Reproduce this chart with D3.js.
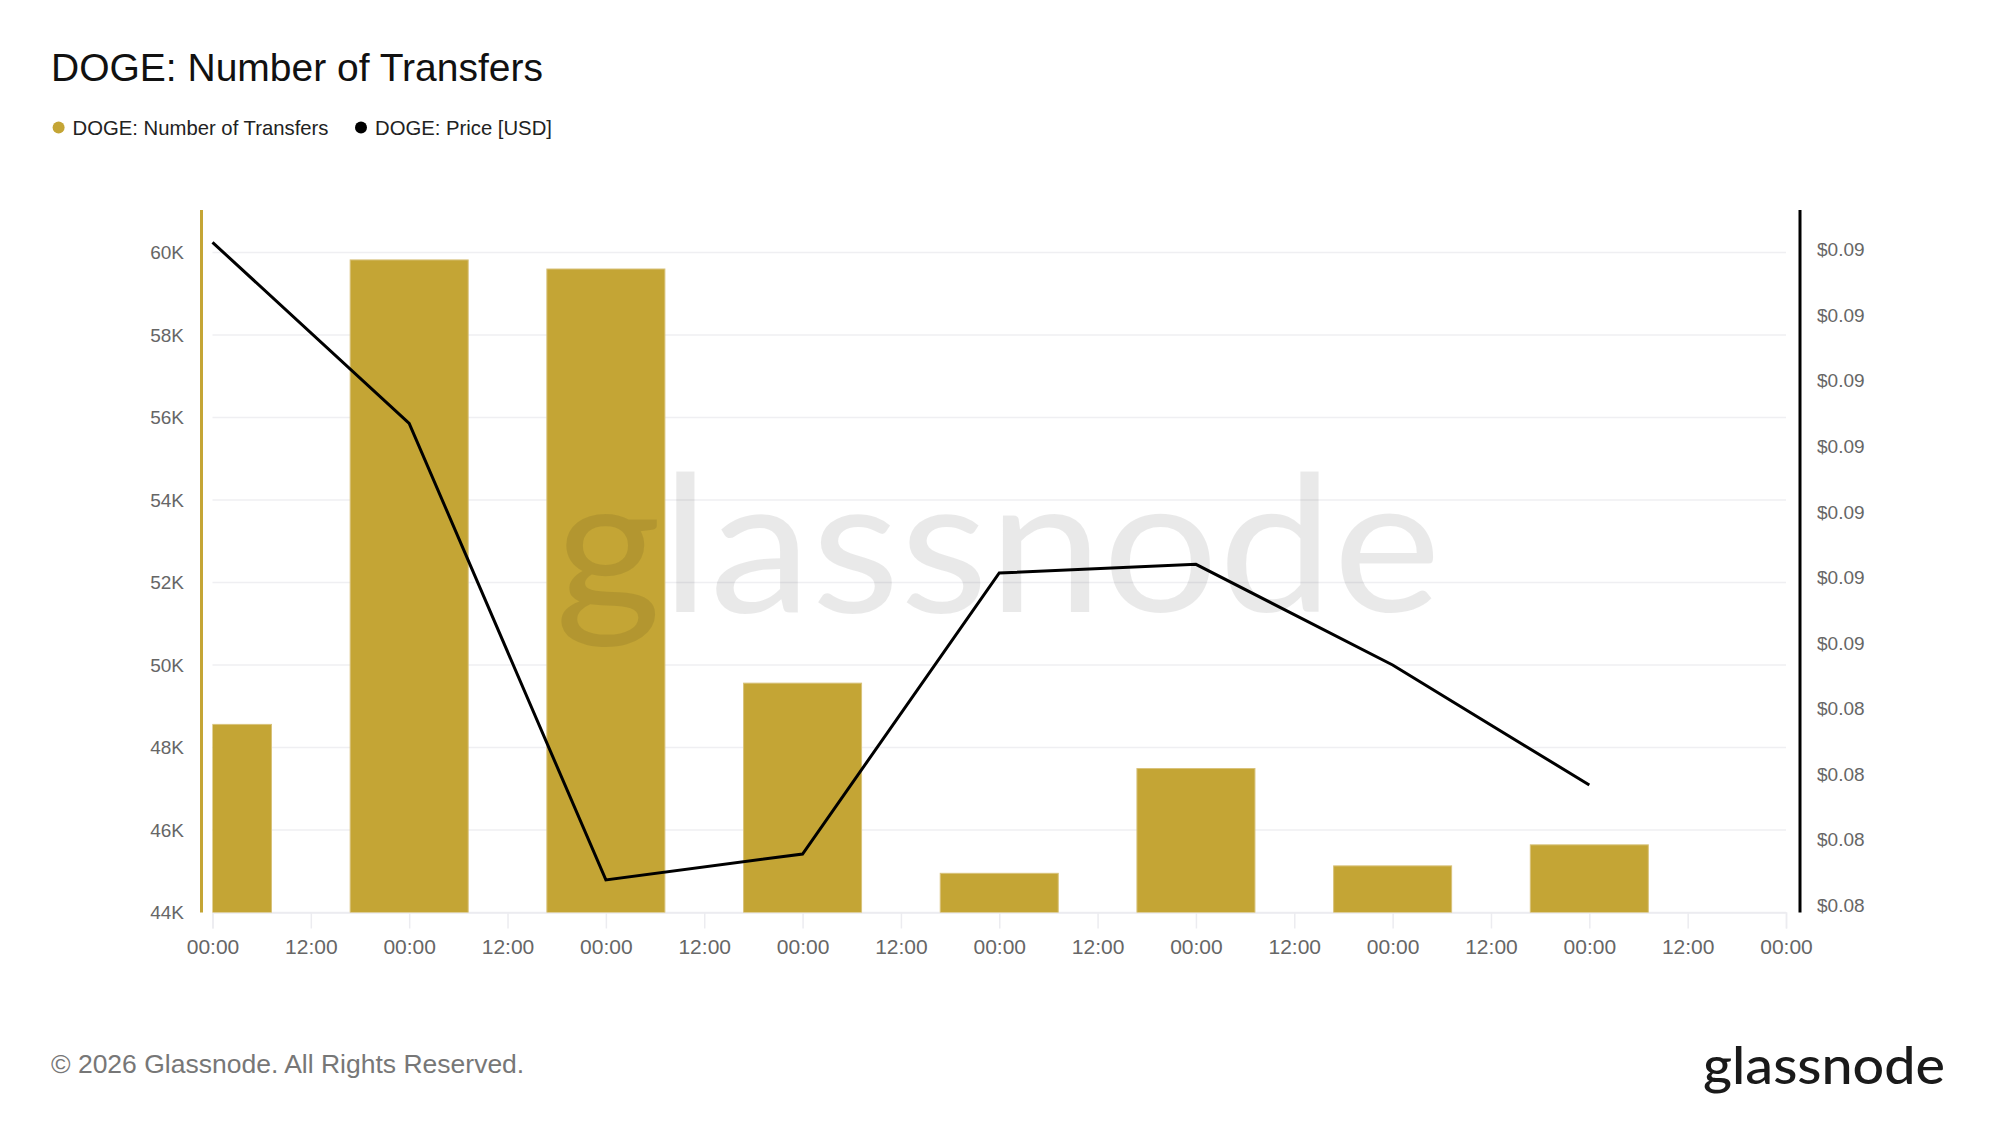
<!DOCTYPE html>
<html><head><meta charset="utf-8">
<script src="https://cdn.jsdelivr.net/npm/d3@7"></script>
<style>
html,body{margin:0;padding:0;background:#fff;}
svg{display:block;font-family:"Liberation Sans",Arial,Helvetica,sans-serif;}
</style>
</head><body>
<svg id="chart" width="1999" height="1125"></svg>
<script>
// ---- data ----
const dates = ["2026-01-13","2026-01-14","2026-01-15","2026-01-16","2026-01-17","2026-01-18","2026-01-19","2026-01-20"];
const transfers = [48560, 59820, 59600, 49560, 44950, 47490, 45130, 45640];
const prices = [0.088056, 0.086676, 0.083194, 0.083392, 0.085535, 0.085601, 0.084833, 0.083918];
const xDomain = ["2026-01-13","2026-01-21"];
const leftTicks = [44000, 46000, 48000, 50000, 52000, 54000, 56000, 58000, 60000];
const leftTickLabels = ["44K","46K","48K","50K","52K","54K","56K","58K","60K"];
const rightTicks = [0.0830, 0.0835, 0.0840, 0.0845, 0.0850, 0.0855, 0.0860, 0.0865, 0.0870, 0.0875, 0.0880];
const rightTickLabels = ["$0.08","$0.08","$0.08","$0.08","$0.09","$0.09","$0.09","$0.09","$0.09","$0.09","$0.09"];
const seriesNames = ["DOGE: Number of Transfers", "DOGE: Price [USD]"];
const seriesColors = ["#C4A535", "#000000"];

// ---- layout ----
const svg = d3.select("#chart");
const plotL = 212.5, plotR = 1786, plotT = 210, plotB = 912.5;
const parse = d3.utcParse("%Y-%m-%d");
const dDates = dates.map(parse);

const x = d3.scaleUtc().domain(xDomain.map(parse)).range([plotL, plotR]);
const yL = d3.scaleLinear().domain([44000, 60000]).range([plotB, 252.5]);
const yR = d3.scaleLinear().domain([0.0830, 0.0880]).range([905.4, 249.7]);

// title
svg.append("text").attr("x", 51).attr("y", 81).attr("font-size", 39).attr("fill", "#111")
  .text("DOGE: Number of Transfers");

// legend
const legX = [58.6, 361];
seriesNames.forEach((n, i) => {
  svg.append("circle").attr("cx", legX[i]).attr("cy", 127.5).attr("r", 6).attr("fill", seriesColors[i]);
  svg.append("text").attr("x", legX[i] + 14).attr("y", 134.5).attr("font-size", 20.3).attr("fill", "#222").text(n);
});

// gridlines
svg.append("g").selectAll("line").data(leftTicks).join("line")
  .attr("x1", plotL).attr("x2", plotR)
  .attr("y1", d => yL(d)).attr("y2", d => yL(d))
  .attr("stroke", "#efeff2").attr("stroke-width", 1.5);

// x axis
const xAxis = d3.axisBottom(x).ticks(d3.utcHour.every(12)).tickFormat(d3.utcFormat("%H:%M"))
  .tickSize(16).tickPadding(11);
const gx = svg.append("g").attr("transform", `translate(0,${plotB})`).call(xAxis);
gx.select(".domain").attr("stroke", "#ececf0").attr("stroke-width", 1.5);
gx.selectAll(".tick line").attr("stroke", "#ececf0").attr("stroke-width", 1.5);
gx.selectAll(".tick text").attr("font-size", 21).attr("fill", "#666").attr("font-family", "Liberation Sans, Arial, sans-serif");

// clip
svg.append("clipPath").attr("id", "plotclip").append("rect")
  .attr("x", plotL).attr("y", plotT).attr("width", plotR - plotL).attr("height", plotB - plotT);

// bars
const dayW = x(dDates[1]) - x(dDates[0]);
const barW = dayW * 0.6;
svg.append("g").attr("clip-path", "url(#plotclip)").selectAll("rect").data(transfers).join("rect")
  .attr("x", (d, i) => x(dDates[i]) - barW / 2)
  .attr("width", barW)
  .attr("y", d => yL(d))
  .attr("height", d => plotB - yL(d))
  .attr("fill", seriesColors[0])
  .attr("stroke", "#d8c27a").attr("stroke-width", 1);

// watermark
svg.append("text").attr("x", 555).attr("y", 612).attr("font-size", 190)
  .attr("font-family", "Lato, 'Open Sans', sans-serif")
  .attr("textLength", 886).attr("lengthAdjust", "spacingAndGlyphs")
  .attr("fill", "#000").attr("fill-opacity", 0.085).text("glassnode");

// price line
const line = d3.line().x((d, i) => x(dDates[i])).y(d => yR(d));
svg.append("path").datum(prices).attr("d", line)
  .attr("fill", "none").attr("stroke", "#000").attr("stroke-width", 3).attr("stroke-linejoin", "miter");

// left axis
svg.append("line").attr("x1", 201.5).attr("x2", 201.5).attr("y1", plotT).attr("y2", plotB)
  .attr("stroke", seriesColors[0]).attr("stroke-width", 3);
svg.append("g").selectAll("text").data(leftTicks).join("text")
  .attr("x", 184).attr("y", d => yL(d)).attr("dy", "0.35em").attr("text-anchor", "end")
  .attr("font-size", 19).attr("fill", "#666").text((d, i) => leftTickLabels[i]);

// right axis
svg.append("line").attr("x1", 1800).attr("x2", 1800).attr("y1", plotT).attr("y2", plotB)
  .attr("stroke", "#000").attr("stroke-width", 3);
svg.append("g").selectAll("text").data(rightTicks).join("text")
  .attr("x", 1817).attr("y", d => yR(d)).attr("dy", "0.35em").attr("text-anchor", "start")
  .attr("font-size", 19).attr("fill", "#666").text((d, i) => rightTickLabels[i]);

// footer
svg.append("text").attr("x", 51).attr("y", 1073).attr("font-size", 26.5).attr("fill", "#777")
  .text("© 2026 Glassnode. All Rights Reserved.");
svg.append("text").attr("x", 1945).attr("y", 1084).attr("text-anchor", "end").attr("font-size", 52)
  .attr("font-family", "Lato, 'Open Sans', sans-serif").attr("font-weight", 500)
  .attr("textLength", 242).attr("lengthAdjust", "spacingAndGlyphs")
  .attr("fill", "#1a1a1a").text("glassnode");
</script>
</body></html>
